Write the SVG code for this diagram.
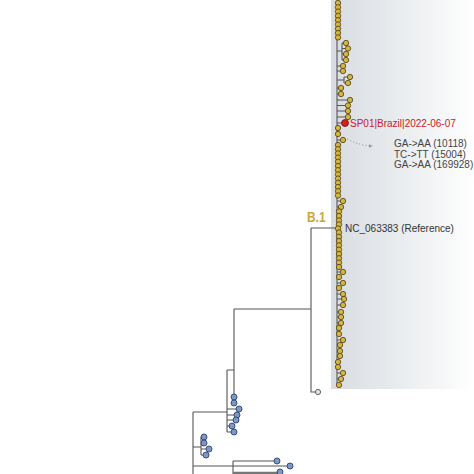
<svg xmlns="http://www.w3.org/2000/svg" width="474" height="474" viewBox="0 0 474 474">
<defs>
<linearGradient id="pg" x1="0" y1="0" x2="1" y2="0">
<stop offset="0" stop-color="#d8dce1"/>
<stop offset="0.6" stop-color="#eef0f2"/>
<stop offset="1" stop-color="#ffffff"/>
</linearGradient>
<marker id="ah" viewBox="0 0 6 6" refX="5" refY="3" markerWidth="4" markerHeight="4" orient="auto">
<path d="M0,0 L6,3 L0,6 z" fill="#999"/>
</marker>
<style>
.br{stroke:#555;stroke-width:1.1;fill:none}
.y{fill:#d5b43f;stroke:#4d3f12;stroke-width:0.8}
.b{fill:#7d97c7;stroke:#2c4370;stroke-width:0.9}
.t{font-family:"Liberation Sans",Arial,sans-serif;font-size:10px}
</style>
</defs>
<rect x="331" y="0" width="143" height="389" fill="url(#pg)"/>
<g id="connectors" class="br">
<path d="M337,3V386"/>
<path d="M337,51H342M342,43V60M342,43H346M342,48.5H348M342,54H346M342,60H346"/>
<path d="M337,66H343M337,71H343"/>
<path d="M337,80H344M344,77V83M344,77H350M344,83H348"/>
<path d="M337,88H341M337,94H341"/>
<path d="M337,100H350M337,105.5H348M337,111H348M337,117H348M337,123H345"/>
<path d="M337,140H343M337,201H343M337,207H341"/>
<path d="M337,272H343M337,283H343M337,294H343M337,299H344M337,305H343M337,312H341M337,317H341M337,323H341M337,340H343M337,373H343M337,379H341"/>
<path d="M311,228H337M311,228V392H318"/>
<path d="M234,309H311M234,309V403"/>
<path d="M227,370H234M227,370V432M227,409H239M227,415H237M227,420H236M227,426H232M227,432H234"/>
<path d="M193,412H227M193,412V474"/>
<path d="M193,447H201M201,437V455M201,437H203M201,443H203M201,449H209M201,455H206"/>
<path d="M193,466H290M233,461V474M233,461H277"/>
<path d="M233,473H280" stroke="#777" stroke-width="2.5"/>
<path d="M347,139Q361,146 372,146" stroke="#999" stroke-width="1" stroke-dasharray="1.2 2" marker-end="url(#ah)"/>
</g>
<g id="tips-top" class="y">
<g id="n1"><circle cx="338" cy="3" r="2.7"/></g>
<g id="n2"><circle cx="338" cy="7.3" r="2.7"/></g>
<g id="n3"><circle cx="338" cy="11.6" r="2.7"/></g>
<g id="n4"><circle cx="338" cy="15.9" r="2.7"/></g>
<g id="n5"><circle cx="338" cy="20.2" r="2.7"/></g>
<g id="n6"><circle cx="338" cy="24.5" r="2.7"/></g>
<g id="n7"><circle cx="338" cy="28.8" r="2.7"/></g>
<g id="n8"><circle cx="338" cy="33.1" r="2.7"/></g>
<g id="n9"><circle cx="338" cy="37.4" r="2.7"/></g>
<g id="n10"><circle cx="346" cy="43" r="2.7"/></g>
<g id="n11"><circle cx="348" cy="48.5" r="2.7"/></g>
<g id="n12"><circle cx="346" cy="54" r="2.7"/></g>
<g id="n13"><circle cx="346" cy="60" r="2.7"/></g>
<g id="n14"><circle cx="343" cy="66" r="2.7"/></g>
<g id="n15"><circle cx="343" cy="71" r="2.7"/></g>
<g id="n16"><circle cx="350" cy="77" r="2.7"/></g>
<g id="n17"><circle cx="348" cy="83" r="2.7"/></g>
<g id="n18"><circle cx="341" cy="88" r="2.7"/></g>
<g id="n19"><circle cx="341" cy="94" r="2.7"/></g>
<g id="n20"><circle cx="350" cy="100" r="2.7"/></g>
<g id="n21"><circle cx="348" cy="105.5" r="2.7"/></g>
<g id="n22"><circle cx="348" cy="111" r="2.7"/></g>
<g id="n23"><circle cx="348" cy="117" r="2.7"/></g>
<g id="n24"><circle cx="338" cy="128" r="2.7"/></g>
<g id="n25"><circle cx="338" cy="134" r="2.7"/></g>
<g id="n26"><circle cx="343" cy="140" r="2.7"/></g>
<g id="n27"><circle cx="338" cy="145" r="2.7"/></g>
<g id="n28"><circle cx="338" cy="149.2" r="2.7"/></g>
<g id="n29"><circle cx="338" cy="153.4" r="2.7"/></g>
<g id="n30"><circle cx="338" cy="157.6" r="2.7"/></g>
<g id="n31"><circle cx="338" cy="161.8" r="2.7"/></g>
<g id="n32"><circle cx="338" cy="166" r="2.7"/></g>
<g id="n33"><circle cx="338" cy="170.2" r="2.7"/></g>
<g id="n34"><circle cx="338" cy="174.4" r="2.7"/></g>
<g id="n35"><circle cx="338" cy="178.6" r="2.7"/></g>
<g id="n36"><circle cx="338" cy="182.8" r="2.7"/></g>
<g id="n37"><circle cx="338" cy="187" r="2.7"/></g>
<g id="n38"><circle cx="338" cy="191.2" r="2.7"/></g>
<g id="n39"><circle cx="338" cy="195.5" r="2.7"/></g>
<g id="n40"><circle cx="343" cy="201" r="2.7"/></g>
<g id="n41"><circle cx="341" cy="207" r="2.7"/></g>
<g id="n42"><circle cx="339" cy="211.5" r="2.7"/></g>
<g id="n43"><circle cx="339" cy="216" r="2.7"/></g>
<g id="n44"><circle cx="339" cy="220.5" r="2.7"/></g>
<g id="n45"><circle cx="339" cy="224.5" r="2.7"/></g>
</g>
<g id="tips-bottom" class="y">
<g id="ref"><circle cx="338" cy="228.5" r="2.7"/></g>
<g id="n46"><circle cx="339" cy="232.5" r="2.7"/></g>
<g id="n47"><circle cx="339" cy="236.8" r="2.7"/></g>
<g id="n48"><circle cx="339" cy="241.1" r="2.7"/></g>
<g id="n49"><circle cx="339" cy="245.4" r="2.7"/></g>
<g id="n50"><circle cx="339" cy="249.7" r="2.7"/></g>
<g id="n51"><circle cx="339" cy="254" r="2.7"/></g>
<g id="n52"><circle cx="339" cy="258.3" r="2.7"/></g>
<g id="n53"><circle cx="339" cy="262.6" r="2.7"/></g>
<g id="n54"><circle cx="339" cy="267" r="2.7"/></g>
<g id="n55"><circle cx="343" cy="272" r="2.7"/></g>
<g id="n56"><circle cx="339" cy="277" r="2.7"/></g>
<g id="n57"><circle cx="343" cy="283" r="2.7"/></g>
<g id="n58"><circle cx="339" cy="288" r="2.7"/></g>
<g id="n59"><circle cx="343" cy="294" r="2.7"/></g>
<g id="n60"><circle cx="344" cy="299" r="2.7"/></g>
<g id="n61"><circle cx="343" cy="305" r="2.7"/></g>
<g id="n62"><circle cx="341" cy="312" r="2.7"/></g>
<g id="n63"><circle cx="341" cy="317" r="2.7"/></g>
<g id="n64"><circle cx="341" cy="323" r="2.7"/></g>
<g id="n65"><circle cx="339" cy="328" r="2.7"/></g>
<g id="n66"><circle cx="339" cy="334" r="2.7"/></g>
<g id="n67"><circle cx="343" cy="340" r="2.7"/></g>
<g id="n68"><circle cx="340" cy="345" r="2.7"/></g>
<g id="n69"><circle cx="340" cy="351" r="2.7"/></g>
<g id="n70"><circle cx="340" cy="356" r="2.7"/></g>
<g id="n71"><circle cx="338" cy="362" r="2.7"/></g>
<g id="n72"><circle cx="338" cy="367" r="2.7"/></g>
<g id="n73"><circle cx="343" cy="373" r="2.7"/></g>
<g id="n74"><circle cx="341" cy="379" r="2.7"/></g>
<g id="n75"><circle cx="339" cy="385" r="2.7"/></g>
</g>
<g id="sp01"><circle cx="345" cy="123" r="3.5" fill="#d41f26" stroke="#7a0b0b" stroke-width="0.8"/></g>
<g id="outgroup"><circle cx="318" cy="392" r="2.6" fill="#e4e4e4" stroke="#555" stroke-width="0.9"/></g>
<g id="tips-blue" class="b">
<g id="b1"><circle cx="234" cy="397" r="3"/></g>
<g id="b2"><circle cx="234" cy="403" r="3"/></g>
<g id="b3"><circle cx="239" cy="409" r="3"/></g>
<g id="b4"><circle cx="237" cy="415" r="3"/></g>
<g id="b5"><circle cx="236" cy="420" r="3"/></g>
<g id="b6"><circle cx="232" cy="426" r="3"/></g>
<g id="b7"><circle cx="234" cy="432" r="3"/></g>
<g id="b8"><circle cx="204" cy="437" r="3"/></g>
<g id="b9"><circle cx="204" cy="443" r="3"/></g>
<g id="b10"><circle cx="209" cy="449" r="3"/></g>
<g id="b11"><circle cx="206" cy="455" r="3"/></g>
<g id="b12"><circle cx="277" cy="461" r="3"/></g>
<g id="b13"><circle cx="290" cy="466" r="3"/></g>
<g id="b14"><circle cx="280" cy="472" r="3"/></g>
</g>
<g id="labels">
<text class="t" x="350" y="127" fill="#c8202a">SP01|Brazil|2022-06-07</text>
<text class="t" x="394" y="147" fill="#444">GA-&gt;AA (10118)</text>
<text class="t" x="394" y="157.5" fill="#444">TC-&gt;TT (15004)</text>
<text class="t" x="394" y="168" fill="#444">GA-&gt;AA (169928)</text>
<text class="t" x="345" y="231.5" fill="#333">NC_063383 (Reference)</text>
<text x="307" y="222" font-family="'Liberation Sans',Arial,sans-serif" font-size="14" font-weight="bold" fill="#c9a53e" textLength="18.5" lengthAdjust="spacingAndGlyphs">B.1</text>
</g>
</svg>
